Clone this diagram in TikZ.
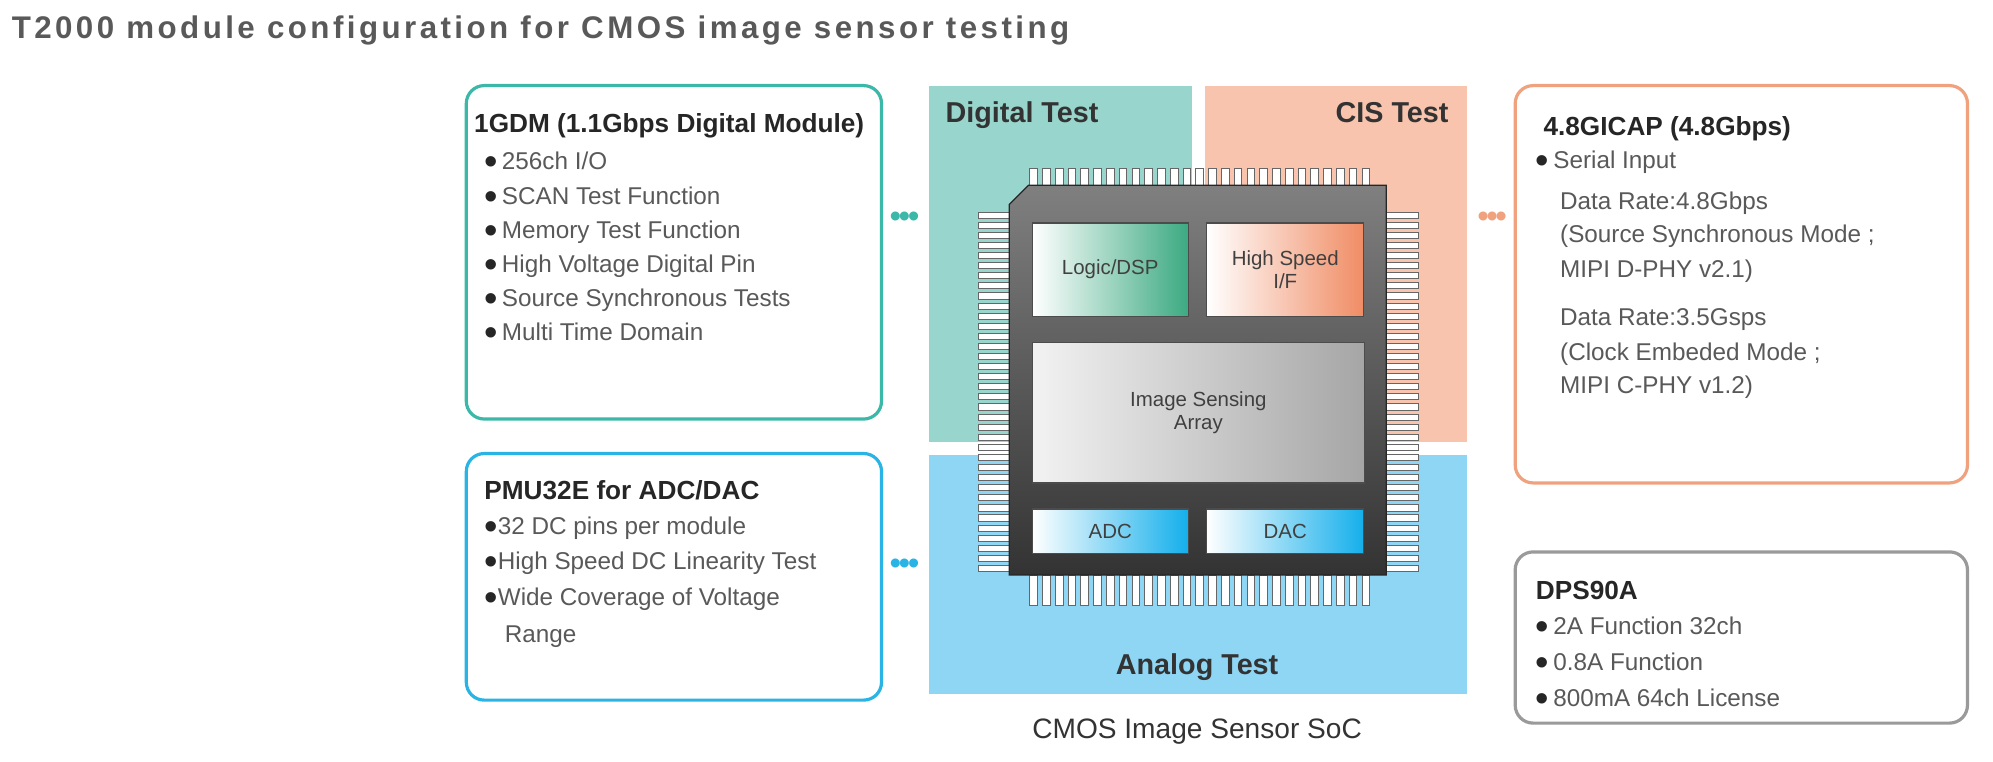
\documentclass[tikz,border=0pt]{standalone}
\usepackage{fontspec}
\setmainfont{Liberation Sans}
\newcommand{\bul}{\smash{\fontsize{30}{20}\selectfont\color{black!85}\raisebox{-0.13em}{\textbullet}}}
\newcommand{\tdots}{\smash{\fontsize{26}{20}\selectfont\textbullet\kern-2pt\textbullet\kern-2pt\textbullet}}
\begin{document}
\begin{tikzpicture}[x=1pt,y=-1pt,
  card/.style={line width=2.5pt,rounded corners=14pt,fill=white},
  hd/.style={anchor=base west,inner sep=1pt,font=\fontsize{20.5}{22}\selectfont\bfseries,text=black!85},
  it/.style={anchor=base west,inner sep=1pt,font=\fontsize{19}{21}\selectfont,text=black!65},
  pan/.style={anchor=base,font=\fontsize{22.5}{24}\selectfont\bfseries,text=black!80},
  pin/.style={draw=black!60,fill=white,line width=0.6pt},
  blk/.style={draw=black!70,line width=1pt,align=center,font=\fontsize{16}{18}\selectfont,text=black!75},
  dots/.style={inner sep=0pt}]
\definecolor{teal1}{HTML}{3BB8A8}\definecolor{blue1}{HTML}{2AB4E6}
\definecolor{ora1}{HTML}{F0A27E}\definecolor{gry1}{HTML}{9A9A9A}
\definecolor{pdig}{HTML}{98D5CC}\definecolor{pcis}{HTML}{F8C4AD}\definecolor{pana}{HTML}{8FD6F5}
\useasboundingbox (0,0) rectangle (1560,596);
\node[anchor=base west,inner sep=0pt,font=\fontsize{24.5}{26}\selectfont\bfseries\addfontfeatures{LetterSpace=11},text=black!65] (title) at (9,30) {T2000 module configuration for CMOS image sensor testing};
% cards
\draw[card,draw=teal1] (365,67) rectangle (690,328);
\node[hd] (h1) at (370,104) {1GDM (1.1Gbps Digital Module)};
\foreach \t [count=\i] in {256ch I/O,SCAN Test Function,Memory Test Function,High Voltage Digital Pin,Source Synchronous Tests,Multi Time Domain}
  \node[it] (a\i) at (378,133+26.7*\i-26.7) {\bul\,\t};
\draw[card,draw=blue1] (365,355) rectangle (690,548);
\node[hd] (h2) at (378,391) {PMU32E for ADC/DAC};
\node[it] (b1) at (378,418) {\bul{}32 DC pins per module};
\node[it] (b2) at (378,446) {\bul{}High Speed DC Linearity Test};
\node[it] (b3) at (378,474) {\bul{}Wide Coverage of Voltage};
\node[it] (b4) at (394,503) {Range};
\draw[card,draw=ora1] (1186,67) rectangle (1540,378);
\node[hd] (h3) at (1207,106) {4.8GICAP (4.8Gbps)};
\node[it] (c0) at (1201,132) {\bul\,Serial Input};
\node[it] (c1) at (1220,164) {Data Rate:4.8Gbps};
\node[it] (c2) at (1220,190) {(Source Synchronous Mode ;};
\node[it] (c3) at (1220,217) {MIPI D-PHY v2.1)};
\node[it] (c4) at (1220,255) {Data Rate:3.5Gsps};
\node[it] (c5) at (1220,282) {(Clock Embeded Mode ;};
\node[it] (c6) at (1220,308) {MIPI C-PHY v1.2)};
\draw[card,draw=gry1] (1186,432) rectangle (1540,566);
\node[hd] (h4) at (1201,469) {DPS90A};
\node[it] (d1) at (1201,497) {\bul\,2A Function 32ch};
\node[it] (d2) at (1201,525) {\bul\,0.8A Function};
\node[it] (d3) at (1201,553) {\bul\,800mA 64ch License};
% dots
\node[dots,text=teal1] (t1) at (708,178) {\tdots};
\node[dots,text=blue1] (t2) at (708,450) {\tdots};
\node[dots,text=ora1] (t3) at (1168,178) {\tdots};
% panels
\fill[pdig] (727,67) rectangle (933,346);
\fill[pcis] (943,67) rectangle (1148,346);
\fill[pana] (727,356) rectangle (1148,543);
\node[anchor=base west,inner sep=0pt,font=\fontsize{22.5}{24}\selectfont\bfseries,text=black!80] (pd) at (740,96) {Digital Test};
\node[anchor=base east,inner sep=0pt,font=\fontsize{22.5}{24}\selectfont\bfseries,text=black!80] (pc) at (1134,96) {CIS Test};
\node[pan] (pa) at (937,528) {Analog Test};
\node[anchor=base,font=\fontsize{22}{24}\selectfont,text=black!80] (soc) at (937,578) {CMOS Image Sensor SoC};
% pins
\foreach \i in {0,...,26} {
  \draw[pin] (806+\i*10,132) rectangle ++(6,24);
  \draw[pin] (806+\i*10,450) rectangle ++(6,24);}
\foreach \i in {0,...,35} {
  \draw[pin] (766,166+\i*7.9) rectangle ++(26,4.8);
  \draw[pin] (1084,166+\i*7.9) rectangle ++(26,4.8);}
% chip body
\shade[top color=black!50,bottom color=black!80,draw=black!85,line width=1pt]
  (805,145) -- (1085,145) -- (1085,450) -- (790,450) -- (790,160) -- cycle;
\coordinate (chip) at (937,297);
\node[blk,minimum width=122,minimum height=73,left color=white,right color={rgb,255:red,60;green,170;blue,130}] (logic) at (869,211) {Logic/DSP};
\node[blk,minimum width=123,minimum height=73,left color=white,right color={rgb,255:red,240;green,140;blue,100}] (hs) at (1006,211) {High Speed\\I/F};
\node[blk,minimum width=260,minimum height=110,left color=black!5,right color=black!35] (isa) at (938,323) {Image Sensing\\Array};
\node[blk,minimum width=122,minimum height=35,left color=white,right color={rgb,255:red,20;green,175;blue,235}] (adc) at (869,416) {ADC};
\node[blk,minimum width=123,minimum height=35,left color=white,right color={rgb,255:red,20;green,175;blue,235}] (dac) at (1006,416) {DAC};
\end{tikzpicture}
\end{document}
